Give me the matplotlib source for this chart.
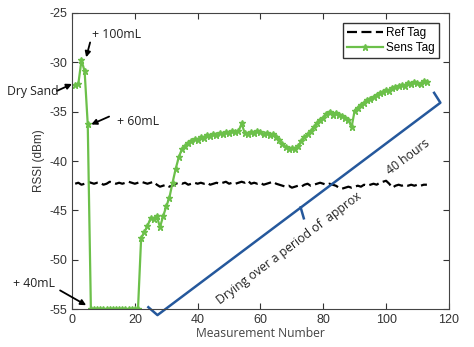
import matplotlib
matplotlib.use("Agg")
import matplotlib.pyplot as plt
import numpy as np

plt.rcParams['axes.unicode_minus'] = False
plt.rcParams['font.family'] = ['Liberation Sans', 'DejaVu Sans']

# datos
meas = np.arange(1, 114)

ref_tag = [-42.3, -42.2, -42.4, -42.3, -42.1, -42.2, -42.3, -42.2, -42.2, -42.4,
           -42.3, -42.1, -42.2, -42.3, -42.2, -42.3, -42.2, -42.1, -42.2, -42.3,
           -42.2, -42.1, -42.2, -42.3, -42.2, -42.1, -42.4, -42.6, -42.5, -42.4,
           -42.6, -42.5, -42.3, -42.2, -42.3, -42.2, -42.4, -42.3, -42.2, -42.3,
           -42.2, -42.3, -42.2, -42.4, -42.3, -42.2, -42.3, -42.2, -42.1, -42.3,
           -42.2, -42.3, -42.2, -42.1, -42.2, -42.0, -42.3, -42.2, -42.3, -42.2,
           -42.4, -42.3, -42.2, -42.1, -42.3, -42.4, -42.5, -42.6, -42.5, -42.7,
           -42.6, -42.5, -42.6, -42.4, -42.3, -42.5, -42.4, -42.3, -42.2, -42.3,
           -42.4, -42.3, -42.4, -42.5, -42.7, -42.8, -42.7, -42.6, -42.7, -42.6,
           -42.5, -42.6, -42.4, -42.5, -42.4, -42.3, -42.4, -42.2, -42.1, -42.0,
           -42.3, -42.7, -42.5, -42.4, -42.5, -42.4, -42.5, -42.4, -42.5, -42.4,
           -42.5, -42.4, -42.4]

sens_tag = [-32.3, -32.2, -29.8, -30.9, -36.3, -55.0, -55.0, -55.0, -55.0, -55.0,
            -55.0, -55.0, -55.0, -55.0, -55.0, -55.0, -55.0, -55.0, -55.0, -55.0,
            -55.0, -47.8, -47.2, -46.6, -45.8, -45.9, -45.6, -46.7, -45.6, -44.6,
            -43.7, -42.2, -40.8, -39.6, -38.8, -38.5, -38.2, -38.0, -37.8, -37.9,
            -37.6, -37.7, -37.4, -37.5, -37.3, -37.4, -37.2, -37.3, -37.1, -37.2,
            -37.0, -37.1, -37.0, -36.2, -37.2, -37.3, -37.1, -37.2, -37.0, -37.1,
            -37.3, -37.2, -37.4, -37.3, -37.6, -37.9, -38.3, -38.6, -38.8, -38.7,
            -38.8, -38.5, -38.0, -37.6, -37.3, -37.0, -36.6, -36.2, -35.8, -35.6,
            -35.2, -35.0, -35.3, -35.1, -35.3, -35.4, -35.6, -35.8, -36.6, -34.9,
            -34.6, -34.3, -34.1, -33.8, -33.7, -33.5, -33.3, -33.1, -33.0, -32.8,
            -32.9, -32.6, -32.5, -32.4, -32.3, -32.4, -32.1, -32.2, -32.0, -32.1,
            -32.2, -31.9, -32.0]

# llave azul (coordenadas de datos)
brace_x = [24.3, 27.2, 117.3, 115.3]
brace_y = [-54.8, -55.6, -34.1, -33.1]
brace_tip_x = [72.8, 73.8]
brace_tip_y = [-44.7, -45.8]

fig = plt.figure(figsize=(4.74, 3.47), dpi=100)
ax = fig.add_axes([0.152, 0.109, 0.795, 0.854])

ax.plot(meas, ref_tag, color='black', linestyle='--', linewidth=1.6,
        dashes=(4.5, 2), label='Ref Tag')
ax.plot(meas, sens_tag, color='#6cc04a', linewidth=1.6, marker='*',
        markersize=5, label='Sens Tag')

ax.plot(brace_x, brace_y, color='#25589c', linewidth=1.8, clip_on=False)
ax.plot(brace_tip_x, brace_tip_y, color='#25589c', linewidth=1.8)

ax.set_xlim(0, 120)
ax.set_ylim(-55, -25)
ax.set_xticks(np.arange(0, 121, 20))
ax.set_yticks(np.arange(-55, -24, 5))
ax.tick_params(direction='in', top=True, right=True, labelsize=9,
               colors='#333333', length=4)
for s in ax.spines.values():
    s.set_color('#444444')

ax.set_xlabel('Measurement Number', fontsize=8.7, color='#444444',
              family='Open Sans', labelpad=1)
ax.set_ylabel('RSSI (dBm)', fontsize=8.5, color='#333333', labelpad=3)

leg = ax.legend(loc='upper right', fontsize=8.5, frameon=True, fancybox=False,
                edgecolor='black', handlelength=3, borderpad=0.35,
                labelspacing=0.25, handletextpad=0.3,
                bbox_to_anchor=(0.99, 0.985))
leg.get_frame().set_linewidth(1.0)

arrow = dict(arrowstyle='-|>', color='black', linewidth=1.3,
             mutation_scale=8, shrinkA=0, shrinkB=0)
tfont = dict(fontsize=8.8, family='Open Sans', color='#222222')

ax.annotate('', xy=(4.5, -29.5), xytext=(5.75, -28.0), arrowprops=arrow)
ax.text(6.4, -27.2, '+ 100mL', ha='left', va='center', **tfont)

ax.annotate('', xy=(0.0, -32.2), xytext=(-4.8, -32.9), arrowprops=arrow,
            annotation_clip=False)
ax.text(-12.5, -33.0, 'Dry Sand', ha='center', va='center', clip_on=False,
        **tfont)

ax.annotate('', xy=(6.1, -36.3), xytext=(11.8, -35.5), arrowprops=arrow)
ax.text(14.4, -36.0, '+ 60mL', ha='left', va='center', **tfont)

ax.annotate('', xy=(4.5, -54.6), xytext=(-3.8, -53.1), arrowprops=arrow,
            annotation_clip=False)
ax.text(-12.1, -52.4, '+ 40mL', ha='center', va='center', clip_on=False,
        **tfont)

ax.text(69.0, -48.8, 'Drying over a period of  approx', rotation=37,
        ha='center', va='center', **tfont)
ax.text(107.0, -39.6, '40 hours', rotation=37, ha='center', va='center',
        **tfont)

fig.savefig('out.png', dpi=100)
